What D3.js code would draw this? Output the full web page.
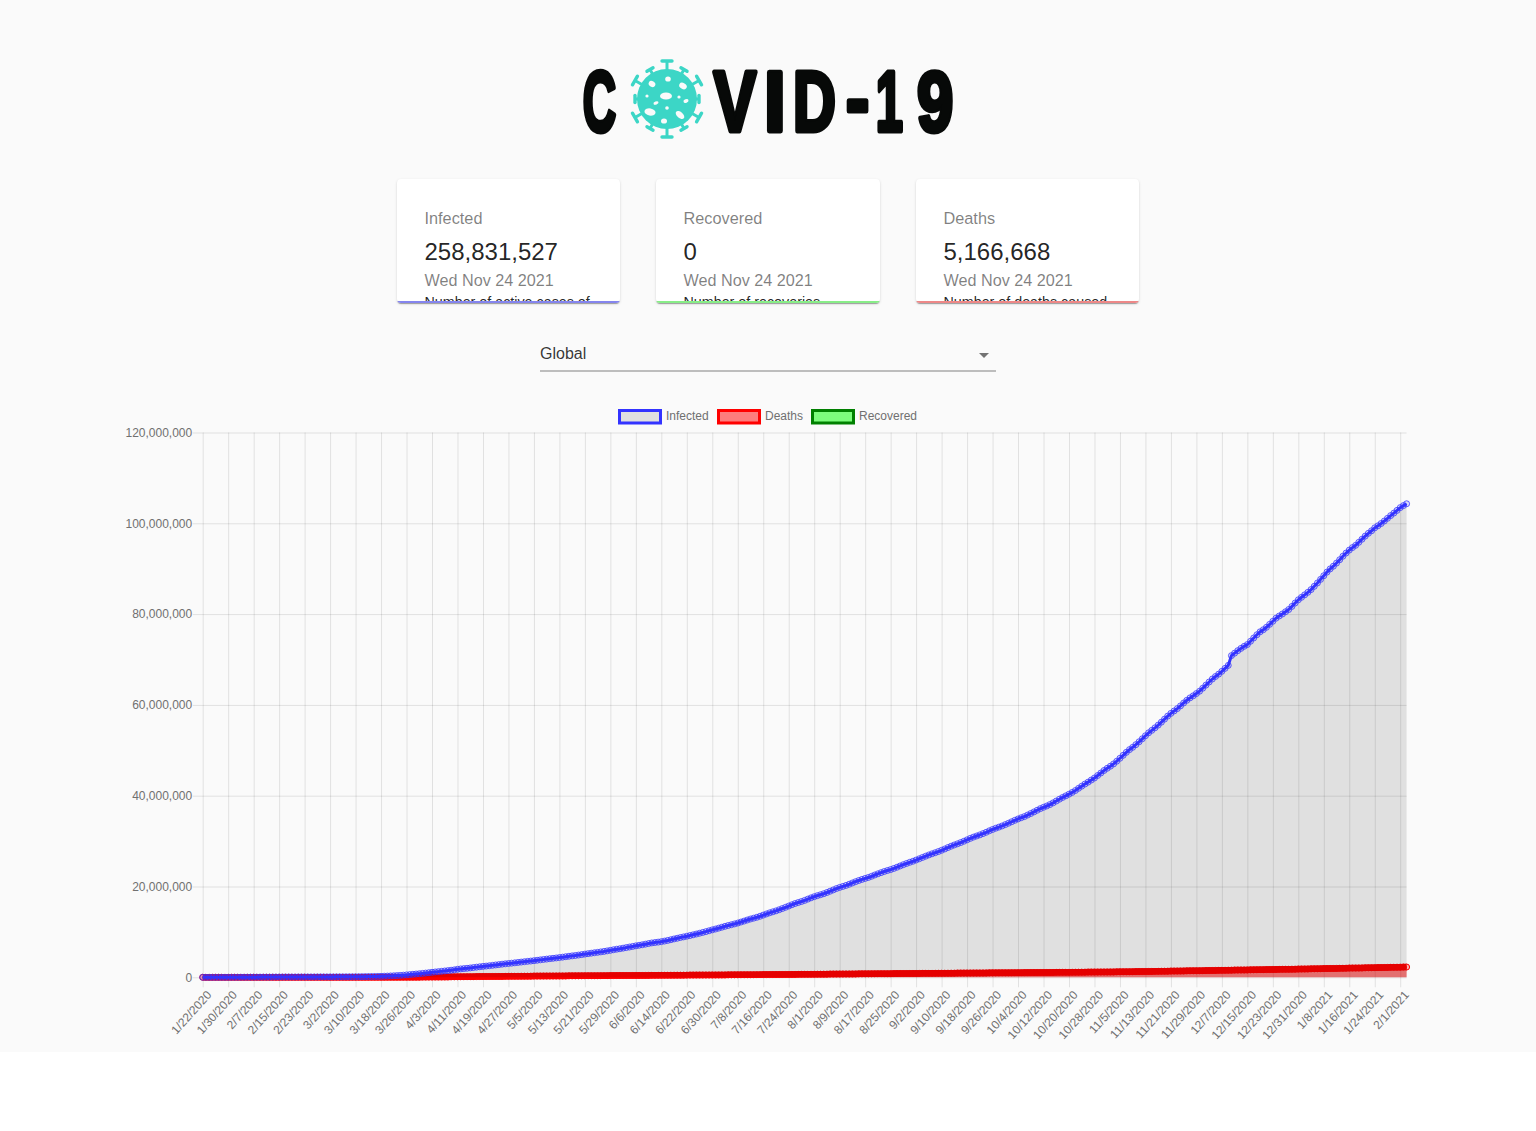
<!DOCTYPE html>
<html>
<head>
<meta charset="utf-8">
<script src="https://cdn.jsdelivr.net/npm/d3@7"></script>
<style>
html,body{margin:0;padding:0;background:#fff;}
#page{position:relative;width:1536px;height:1052px;background:#fafafa;overflow:hidden;font-family:"Liberation Sans",Arial,sans-serif;}
.card{position:absolute;top:179px;height:124px;box-sizing:border-box;background:#fff;border-radius:4px;overflow:hidden;
box-shadow:0 2px 1px -1px rgba(0,0,0,.2),0 1px 1px 0 rgba(0,0,0,.14),0 1px 3px 0 rgba(0,0,0,.12);}
.card .in{position:absolute;left:27.5px;top:0;width:175px;}
.card .t{position:absolute;left:0;top:29px;font-size:16.3px;line-height:20px;color:rgba(0,0,0,.5);white-space:nowrap;}
.card .v{position:absolute;left:0;top:58px;font-size:24px;line-height:30px;color:rgba(0,0,0,.87);white-space:nowrap;}
.card .d{position:absolute;left:0;top:90.5px;font-size:16.2px;line-height:20px;color:rgba(0,0,0,.5);white-space:nowrap;}
.card .n{position:absolute;left:0;top:113px;width:168px;font-size:14.3px;line-height:20px;color:rgba(0,0,0,.87);}
.card .b{position:absolute;left:0;right:0;bottom:0;height:2.5px;}
#sel{position:absolute;left:540px;top:336px;width:456px;height:36px;border-bottom:2px solid #bdbdbd;box-sizing:border-box;}
#sel span{position:absolute;left:0;top:8px;font-size:16px;line-height:20px;color:rgba(0,0,0,.8);}
#sel i{position:absolute;left:439px;top:17px;width:0;height:0;border-left:5px solid transparent;border-right:5px solid transparent;border-top:5px solid rgba(0,0,0,.54);}
svg{position:absolute;left:0;top:0;}
svg text{font-family:"Liberation Sans",Arial,sans-serif;}
</style>
</head>
<body>
<div id="page"></div>
<script>
// ---------- DATA ----------
const yTickValues = [0, 20000000, 40000000, 60000000, 80000000, 100000000, 120000000];
const cardTitles = ["Infected", "Recovered", "Deaths"];
const cardValues = [258831527, 0, 5166668];
const cardDate = "Wed Nov 24 2021";
const cardNotes = ["Number of active cases of COVID-19", "Number of recoveries from COVID-19", "Number of deaths caused by COVID-19"];
const seriesNames = ["Infected", "Deaths", "Recovered"];
const firstDay = "2020-01-22";
const tickEvery = 8;

// cumulative cases, millions; one row per eight days, first row starts 1/22/2020
const infected = [
.0006,.0006,.0009,.0014,.0021,.0029,.0055,.0061,
.0082,.0098,.0119,.0166,.0196,.0238,.0275,.0301,
.0345,.0371,.0401,.0425,.0447,.0447,.0604,.0669,
.0690,.0711,.0731,.0751,.0751,.0760,.0768,.0778,
.0790,.0800,.0812,.0824,.0840,.0863,.0881,.0895,
.0904,.0933,.0954,.0982,.1019,.1057,.1096,.1143,
.1189,.1268,.1343,.1459,.1567,.1677,.1816,.1979,
.2146,.2426,.2725,.3045,.3372,.3787,.4225,.4711,
.5313,.5968,.6612,.7213,.7851,.8587,.9333,1.0133,
1.0957,1.1771,1.2493,1.3214,1.3962,1.4763,1.5592,1.6414,
1.77,1.85,1.92,1.98,2.06,2.15,2.24,2.32,
2.40,2.47,2.55,2.63,2.72,2.80,2.89,2.97,
3.04,3.11,3.19,3.27,3.35,3.43,3.51,3.58,
3.66,3.75,3.84,3.93,4.01,4.10,4.18,4.26,
4.35,4.44,4.54,4.63,4.72,4.80,4.90,5.00,
5.11,5.21,5.31,5.41,5.50,5.60,5.70,5.82,
5.94,6.07,6.19,6.29,6.42,6.54,6.67,6.80,
6.93,7.05,7.16,7.30,7.44,7.57,7.66,7.75,
7.85,7.98,8.12,8.28,8.45,8.60,8.76,8.90,
9.05,9.20,9.36,9.53,9.70,9.88,10.06,10.25,
10.45,10.63,10.83,11.03,11.23,11.41,11.58,11.76,
11.95,12.17,12.39,12.62,12.84,13.03,13.22,13.45,
13.70,13.95,14.20,14.42,14.63,14.88,15.15,15.42,
15.70,15.98,16.25,16.47,16.69,16.94,17.22,17.50,
17.75,17.98,18.19,18.41,18.68,18.97,19.25,19.55,
19.80,20.02,20.24,20.50,20.78,21.06,21.32,21.56,
21.78,21.99,22.25,22.53,22.79,23.05,23.30,23.52,
23.73,23.98,24.25,24.53,24.81,25.07,25.33,25.56,
25.83,26.11,26.40,26.68,26.95,27.20,27.44,27.70,
27.98,28.27,28.58,28.88,29.15,29.40,29.68,29.97,
30.28,30.60,30.88,31.12,31.37,31.65,31.94,32.27,
32.56,32.84,33.08,33.34,33.63,33.94,34.26,34.58,
34.88,35.15,35.40,35.74,36.08,36.43,36.79,37.15,
37.45,37.73,38.05,38.42,38.82,39.23,39.62,39.97,
40.33,40.72,41.14,41.63,42.10,42.56,42.99,43.45,
43.90,44.45,45.00,45.56,46.04,46.50,47.00,47.60,
48.25,48.90,49.55,50.15,50.66,51.24,51.87,52.53,
53.20,53.85,54.40,54.95,55.55,56.20,56.87,57.54,
58.14,58.66,59.18,59.78,60.42,61.02,61.55,62.00,
62.50,63.02,63.68,64.36,65.05,65.70,66.26,66.78,
67.40,68.05,68.70,70.85,71.40,71.95,72.45,72.90,
73.30,74.02,74.74,75.45,76.10,76.55,77.10,77.75,
78.42,79.10,79.58,80.02,80.52,81.02,81.70,82.44,
83.15,83.70,84.24,84.80,85.40,86.12,86.86,87.65,
88.45,89.25,89.96,90.55,91.24,91.98,92.75,93.45,
94.10,94.65,95.15,95.82,96.50,97.18,97.80,98.35,
99.00,99.45,99.95,100.50,101.10,101.70,102.25,102.85,
103.45,103.90,104.30];

// cumulative deaths, millions; same rows
const deaths = [
.0000,.0000,.0000,.0000,.0001,.0001,.0001,.0001,
.0002,.0002,.0003,.0004,.0004,.0005,.0006,.0006,
.0007,.0008,.0009,.0010,.0011,.0011,.0014,.0015,
.0017,.0018,.0019,.0020,.0021,.0022,.0022,.0024,
.0025,.0027,.0028,.0029,.0029,.0030,.0030,.0031,
.0031,.0032,.0033,.0034,.0035,.0036,.0038,.0040,
.0043,.0046,.0050,.0054,.0058,.0065,.0071,.0079,
.0088,.0100,.0113,.0130,.0148,.0165,.0187,.0214,
.0242,.0272,.0305,.0337,.0375,.0427,.0470,.0520,
.0583,.0642,.0695,.0740,.0816,.0880,.0950,.1020,
.1100,.1150,.1200,.1270,.1340,.1450,.1530,.1610,
.1650,.1700,.1770,.1840,.1900,.1970,.2030,.2070,
.2110,.2180,.2250,.2320,.2380,.2430,.2480,.2530,
.2590,.2650,.2710,.2770,.2820,.2860,.2900,.2950,
.3010,.3060,.3110,.3160,.3190,.3230,.3270,.3320,
.3370,.3420,.3470,.3510,.3540,.3580,.3620,.3670,
.3720,.3760,.3800,.3830,.3870,.3910,.3960,.4010,
.4050,.4090,.4120,.4160,.4210,.4260,.4310,.4350,
.4390,.4430,.4490,.4560,.4620,.4670,.4720,.4760,
.4790,.4840,.4890,.4940,.4990,.5030,.5060,.5100,
.5150,.5200,.5250,.5300,.5340,.5370,.5400,.5450,
.5500,.5560,.5610,.5660,.5700,.5740,.5790,.5840,
.5900,.5950,.6000,.6040,.6080,.6130,.6190,.6250,
.6310,.6360,.6410,.6460,.6500,.6560,.6620,.6680,
.6740,.6790,.6840,.6900,.6970,.7030,.7090,.7150,
.7200,.7250,.7310,.7370,.7440,.7500,.7560,.7610,
.7660,.7710,.7770,.7830,.7890,.7950,.8000,.8050,
.8090,.8150,.8210,.8270,.8330,.8380,.8430,.8480,
.8540,.8600,.8660,.8710,.8760,.8800,.8840,.8890,
.8950,.9010,.9060,.9120,.9160,.9200,.9260,.9320,
.9380,.9430,.9480,.9520,.9570,.9630,.9700,.9760,
.9820,.9870,.9910,.9960,1.002,1.008,1.014,1.019,
1.024,1.028,1.032,1.037,1.044,1.050,1.055,1.060,
1.064,1.068,1.073,1.079,1.085,1.091,1.096,1.100,
1.105,1.112,1.118,1.125,1.131,1.137,1.141,1.146,
1.153,1.160,1.167,1.174,1.180,1.185,1.191,1.200,
1.209,1.218,1.227,1.235,1.243,1.252,1.263,1.273,
1.284,1.293,1.302,1.310,1.320,1.331,1.342,1.353,
1.364,1.373,1.381,1.393,1.405,1.417,1.429,1.441,
1.449,1.458,1.470,1.483,1.495,1.508,1.520,1.529,
1.538,1.549,1.561,1.574,1.586,1.598,1.608,1.616,
1.627,1.640,1.653,1.665,1.678,1.689,1.698,1.708,
1.722,1.735,1.747,1.757,1.763,1.772,1.784,1.799,
1.813,1.826,1.837,1.846,1.856,1.871,1.885,1.900,
1.915,1.930,1.941,1.950,1.962,1.978,1.993,2.008,
2.022,2.036,2.045,2.054,2.068,2.085,2.101,2.116,
2.130,2.139,2.148,2.163,2.180,2.197,2.213,2.226,
2.236,2.246,2.260];

// ---------- PAGE ----------
const page = d3.select("#page");
const svg = page.append("svg").attr("width", 1536).attr("height", 1052);

// logo: each glyph fitted to its measured ink box [glyph, inkLeft, inkRight, baselineShift]
const logoGlyphs = [["C",584.5,615.5,0],["V",713.5,756.5,0],["I",768.5,780.5,0],["D",796.5,833.5,0],["-",848.5,866.5,-3],["1",878.5,901.5,0],["9",918.5,951.5,0]];
const logoSize = 85;
const logo = svg.append("g");
const ctx = document.createElement("canvas").getContext("2d");
ctx.font = `700 ${logoSize}px "Liberation Sans"`;
logoGlyphs.forEach(([ch, l, r, dy]) => {
  const m = ctx.measureText(ch);
  const ink = m.actualBoundingBoxRight + m.actualBoundingBoxLeft;
  const sx = (r - l) / ink;
  logo.append("text").text(ch)
    .attr("transform", `translate(${l + m.actualBoundingBoxLeft * sx},${131 + dy}) scale(${sx},1)`)
    .attr("font-size", logoSize).attr("font-weight", 700)
    .attr("fill", "#070908").attr("stroke", "#070908").attr("stroke-width", 5)
    .attr("stroke-linejoin", "round").style("paint-order", "stroke");
});
const teal = "#3cd6c6";
const virus = logo.append("g").attr("transform", "translate(667,99)");
const spikeAngles = d3.range(0, 360, 30);
const spikeLength = [38, 34, 37, 32, 37, 34, 38, 34, 37, 32, 37, 34];
spikeAngles.forEach((a, i) => {
  const len = spikeLength[i];
  const cap = len > 36 ? 5 : 3.5;
  const g = virus.append("g").attr("transform", `rotate(${a})`);
  g.append("line").attr("x1", 0).attr("x2", 0).attr("y1", -26).attr("y2", -len).attr("stroke", teal).attr("stroke-width", 3);
  g.append("line").attr("x1", -cap).attr("x2", cap).attr("y1", -len).attr("y2", -len).attr("stroke", teal).attr("stroke-width", 3.4).attr("stroke-linecap", "round");
});
virus.append("circle").attr("r", 30).attr("fill", teal);
const holes = [[-15,-15,3.5,2.8,30],[1,-20,2.8,2.6,0],[16,-13,4,3,30],[-1,-3,6,3.6,0],[-20,-3,1.6,1.6,0],[12,-2,1.6,1.6,0],[-11,4,2.6,1.6,-20],[19,2,2.6,1.8,-20],[0,9,1.8,1.8,0],
 [-17,13,5.6,3.6,10],[13,16,5,3,40],[-3,22,3,2.6,0]];
virus.selectAll("ellipse").data(holes).join("ellipse")
  .attr("cx", d => d[0]).attr("cy", d => d[1]).attr("rx", d => d[2]).attr("ry", d => d[3])
  .attr("transform", d => `rotate(${d[4]} ${d[0]} ${d[1]})`).attr("fill", "#fafafa");

// cards
const cardLeft = [397, 656, 916], cardWidth = [223, 224, 223];
const cardColor = ["#8585ee", "#88ee88", "#ee8888"];
const fmt = d3.format(",");
cardTitles.forEach((t, i) => {
  const c = page.append("div").attr("class", "card").style("left", cardLeft[i] + "px").style("width", cardWidth[i] + "px");
  const k = c.append("div").attr("class", "in");
  k.append("div").attr("class", "t").text(t);
  k.append("div").attr("class", "v").text(fmt(cardValues[i]));
  k.append("div").attr("class", "d").text(cardDate);
  k.append("div").attr("class", "n").text(cardNotes[i]);
  c.append("div").attr("class", "b").style("background", cardColor[i]);
});

// selector
const sel = page.append("div").attr("id", "sel");
sel.append("span").text("Global");
sel.append("i");

// ---------- CHART ----------
const parse = d3.timeParse("%Y-%m-%d");
const start = parse(firstDay);
const labelFmt = d => `${d.getMonth() + 1}/${d.getDate()}/${d.getFullYear()}`;
const categories = infected.map((_, i) => labelFmt(d3.timeDay.offset(start, i)));
const tickLabels = categories.filter((_, i) => i % tickEvery === 0);

const plotLeft = 202.7, plotRight = 1406.6, plotTop = 432.5, plotBottom = 977.3;
const x = d3.scalePoint().domain(categories).range([plotLeft, plotRight]);
const y = d3.scaleLinear().domain([0, 120000000]).range([plotBottom, plotTop]);
const chart = svg.append("g");
const gridCol = "rgba(0,0,0,.1)";
const inkCol = "#707070";

const gx = chart.append("g").attr("transform", `translate(0,${plotBottom})`);
gx.call(d3.axisBottom(x).tickValues(tickLabels).tickSizeInner(-(plotBottom - plotTop)).tickSizeOuter(0).tickFormat(""));
const gxT = chart.append("g").attr("transform", `translate(0,${plotBottom})`);
gxT.call(d3.axisBottom(x).tickValues(tickLabels).tickSizeInner(10).tickSizeOuter(0).tickPadding(6));
const gy = chart.append("g").attr("transform", `translate(${plotLeft},0)`);
gy.call(d3.axisLeft(y).tickValues(yTickValues).tickSizeInner(-(plotRight - plotLeft)).tickSizeOuter(0).tickFormat(""));
const gyT = chart.append("g").attr("transform", `translate(${plotLeft},0)`);
gyT.call(d3.axisLeft(y).tickValues(yTickValues).tickSizeInner(10).tickSizeOuter(0).tickPadding(0).tickFormat(fmt));
chart.selectAll(".domain").remove();
chart.selectAll(".tick line").attr("stroke", gridCol);
gyT.selectAll("text").attr("x", -10.5).attr("fill", inkCol).attr("font-size", 12);
gxT.selectAll("text").attr("fill", inkCol).attr("font-size", 12).attr("text-anchor", "end")
  .attr("x", 0).attr("y", 0).attr("dy", 0)
  .attr("transform", "translate(9,18) rotate(-48)");

const series = [
  { values: deaths, fill: "rgba(255,0,0,.5)", stroke: "#ff0000", point: "rgba(255,0,0,.3)", w: 6.5, po: 1 },
  { values: infected, fill: "rgba(0,0,0,.1)", stroke: "#3333ff", point: "rgba(51,51,255,.15)", w: 3, po: .75 }
];
const area = vals => d3.area().x((_, i) => x(categories[i])).y0(plotBottom).y1(d => y(d * 1e6))(vals);
const line = vals => d3.line().x((_, i) => x(categories[i])).y(d => y(d * 1e6))(vals);
series.forEach(s => {
  const g = chart.append("g");
  g.append("path").attr("d", area(s.values)).attr("fill", s.fill);
  g.append("path").attr("d", line(s.values)).attr("fill", "none").attr("stroke", s.stroke).attr("stroke-width", s.w);
  g.selectAll("circle").data(s.values).join("circle")
    .attr("cx", (_, i) => x(categories[i])).attr("cy", d => y(d * 1e6)).attr("r", 3)
    .attr("fill", s.point).attr("stroke", s.stroke).attr("stroke-opacity", s.po).attr("stroke-width", 1);
});

// legend
const legendBox = [["rgba(0,0,0,.1)", "#3333ff", 619.5], ["rgba(255,0,0,.5)", "#ff0000", 718.5], ["rgba(0,255,0,.5)", "#008000", 812.5]];
seriesNames.forEach((n, i) => {
  const [f, s, bx] = legendBox[i];
  chart.append("rect").attr("x", bx).attr("y", 410.5).attr("width", 41).attr("height", 12.5).attr("fill", f).attr("stroke", s).attr("stroke-width", 3);
  chart.append("text").text(n).attr("x", bx + 46.5).attr("y", 420).attr("font-size", 12).attr("fill", inkCol);
});
</script>
</body>
</html>
